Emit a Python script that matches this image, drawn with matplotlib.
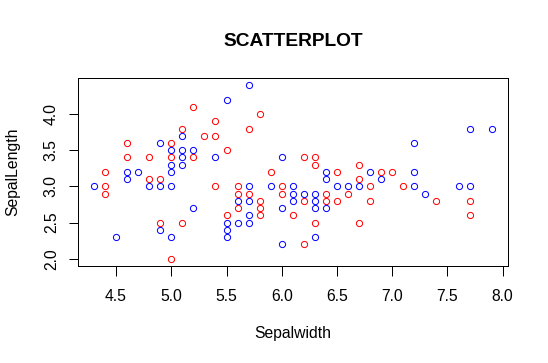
import matplotlib
matplotlib.use("Agg")
import matplotlib.pyplot as plt

# ---- data ----
red_x = [4.4, 4.4, 4.4, 4.6, 4.6, 4.8, 4.8, 4.9, 4.9, 5.0, 5.0, 5.0,
         5.1, 5.1, 5.2, 5.2, 5.3, 5.4, 5.4, 5.4, 5.5, 5.5, 5.6, 5.6, 5.6,
         5.7, 5.7, 5.8, 5.8, 5.8, 5.8, 5.9, 6.0, 6.0, 6.1, 6.2, 6.2, 6.2,
         6.3, 6.3, 6.3, 6.4, 6.4, 6.5, 6.5, 6.6, 6.7, 6.7, 6.7, 6.8, 6.8,
         6.9, 7.0, 7.1, 7.4, 7.7, 7.7]
red_y = [3.2, 3.0, 2.9, 3.6, 3.4, 3.4, 3.1, 3.1, 2.5, 3.6, 3.4, 2.0,
         3.8, 2.5, 4.1, 3.4, 3.7, 3.9, 3.7, 3.0, 3.5, 2.6, 3.0, 2.9, 2.7,
         3.8, 2.9, 4.0, 2.8, 2.7, 2.6, 3.2, 3.0, 2.9, 2.6, 3.4, 2.8, 2.2,
         3.4, 3.3, 2.5, 2.9, 2.8, 3.2, 2.8, 2.9, 3.3, 3.1, 2.5, 3.0, 2.8,
         3.2, 3.2, 3.0, 2.8, 2.8, 2.6]

blue_x = [4.3, 4.5, 4.6, 4.6, 4.7, 4.8, 4.9, 4.9, 4.9,
          5.0, 5.0, 5.0, 5.0, 5.0, 5.1, 5.1, 5.1, 5.1, 5.2, 5.2, 5.4,
          5.5, 5.5, 5.5, 5.5, 5.6, 5.6, 5.7, 5.7, 5.7, 5.7, 5.7, 5.9,
          6.0, 6.0, 6.0, 6.1, 6.1, 6.1, 6.2, 6.3, 6.3, 6.3, 6.3,
          6.4, 6.4, 6.4, 6.5, 6.6, 6.7, 6.8, 6.9, 7.2, 7.2, 7.2, 7.3,
          7.6, 7.7, 7.7, 7.9]
blue_y = [3.0, 2.3, 3.2, 3.1, 3.2, 3.0, 3.6, 3.0, 2.4,
          3.5, 3.3, 3.2, 3.0, 2.3, 3.7, 3.5, 3.4, 3.3, 3.5, 2.7, 3.4,
          4.2, 2.5, 2.4, 2.3, 2.8, 2.5, 4.4, 3.0, 2.8, 2.6, 2.5, 3.0,
          3.4, 2.7, 2.2, 3.0, 2.9, 2.8, 2.9, 2.9, 2.8, 2.7, 2.3,
          3.2, 3.1, 2.7, 3.0, 3.0, 3.0, 3.2, 3.1, 3.6, 3.2, 3.0, 2.9,
          3.0, 3.8, 3.0, 3.8]

x_ticks = [4.5, 5.0, 5.5, 6.0, 6.5, 7.0, 7.5, 8.0]
y_ticks = [2.0, 2.5, 3.0, 3.5, 4.0]
title = "SCATTERPLOT"
xlabel = "Sepalwidth"
ylabel = "SepalLength"

# ---- figure ----
W, H = 548, 363
plt.rcParams['font.family'] = ['Liberation Sans', 'DejaVu Sans']
fig = plt.figure(figsize=(W / 100, H / 100), dpi=100)
L, R, T, B = 78.0, 507.6, 78.2, 265.6
ax = fig.add_axes([L / W, 1 - B / H, (R - L) / W, (B - T) / H])

px = 0.72  # one pixel in points
ms = 6.2 * px
ax.plot(red_x, red_y, linestyle='none', marker='o', markerfacecolor='none',
        markeredgecolor='red', markersize=ms, markeredgewidth=1 * px)
ax.plot(blue_x, blue_y, linestyle='none', marker='o', markerfacecolor='none',
        markeredgecolor='blue', markersize=ms, markeredgewidth=1 * px)

allx = red_x + blue_x
ally = red_y + blue_y
xr = max(allx) - min(allx)
yr = max(ally) - min(ally)
ax.set_xlim(min(allx) - 0.04 * xr, max(allx) + 0.04 * xr)
ax.set_ylim(min(ally) - 0.04 * yr, max(ally) + 0.04 * yr)

ax.set_xticks(x_ticks)
ax.set_xticklabels([f"{v:.1f}" for v in x_ticks])
ax.set_yticks(y_ticks)
ax.set_yticklabels([f"{v:.1f}" for v in y_ticks], rotation=90, va='center')

fs = 11.3
ax.tick_params(axis='both', direction='out', length=9.5 * px, width=1 * px,
               color='black', labelsize=fs, labelcolor='black')
ax.tick_params(axis='x', pad=10)
ax.tick_params(axis='y', pad=7)
for s in ax.spines.values():
    s.set_linewidth(1 * px)
    s.set_color('black')

cx = (L + R) / 2 / W
fig.text(cx, 1 - 45.7 / H, title, ha='center', va='baseline',
         fontsize=13.8, fontweight='bold')
fig.text(cx, 1 - 337.7 / H, xlabel, ha='center', va='baseline', fontsize=fs)
fig.text(13.0 / W, 1 - (T + B) / 2 / H, ylabel, ha='center', va='center',
         rotation=90, fontsize=fs)

fig.savefig("out.png", dpi=100)
